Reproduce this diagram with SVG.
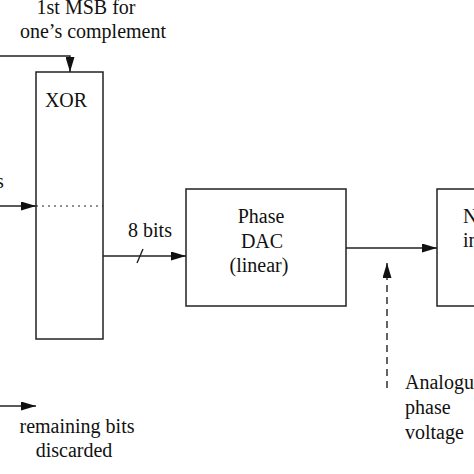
<svg xmlns="http://www.w3.org/2000/svg" width="474" height="474" viewBox="0 0 474 474">
<defs>
<style>
text{font-family:"Liberation Serif","Times New Roman",serif;font-size:20px;fill:#111}
.box{fill:#fff;stroke:#222;stroke-width:1.5}
.ln{fill:none;stroke:#222;stroke-width:1.4}
.mid{text-anchor:middle}
</style>
<marker id="ah" markerUnits="userSpaceOnUse" viewBox="0 0 15 9" refX="15" refY="4.5" markerWidth="15" markerHeight="9" orient="auto">
<path d="M0,0 L15,4.5 L0,9 z" fill="#111"/>
</marker>
</defs>
<rect width="474" height="474" fill="#fff"/>
<g id="xor">
<rect class="box" x="36" y="72" width="67" height="267"/>
<text class="mid" x="66" y="107">XOR</text>
<line x1="36" y1="206" x2="103" y2="206" stroke="#222" stroke-width="1.2" stroke-dasharray="2,4"/>
</g>
<g id="dac">
<rect class="box" x="186" y="189" width="160" height="117"/>
<text class="mid" x="261" y="223">Phase</text>
<text class="mid" x="262" y="248">DAC</text>
<text class="mid" x="259" y="272">(linear)</text>
</g>
<g id="right">
<rect class="box" x="437" y="189" width="60" height="117"/>
<text x="463" y="223">N</text>
<text x="463" y="247">in</text>
</g>
<g id="connectors">
<path class="ln" d="M0,56 H70 V72" marker-end="url(#ah)"/>
<line class="ln" x1="0" y1="206" x2="36" y2="206" marker-end="url(#ah)"/>
<line class="ln" x1="103" y1="256" x2="186" y2="256" marker-end="url(#ah)"/>
<line class="ln" x1="137" y1="263" x2="143" y2="249"/>
<line class="ln" x1="346" y1="248" x2="437" y2="248" marker-end="url(#ah)"/>
<line class="ln" x1="387" y1="388" x2="387" y2="263" stroke-dasharray="7,5" marker-end="url(#ah)"/>
<line class="ln" x1="0" y1="406" x2="36" y2="406" marker-end="url(#ah)"/>
</g>
<g id="labels">
<text class="mid" x="86" y="14">1st MSB for</text>
<text class="mid" x="93" y="38">one’s complement</text>
<text x="-4" y="188">s</text>
<text class="mid" x="150" y="237">8 bits</text>
<text x="405" y="389">Analogu</text>
<text x="405" y="414">phase</text>
<text x="405" y="439">voltage</text>
<text class="mid" x="77" y="433">remaining bits</text>
<text class="mid" x="74" y="457">discarded</text>
</g>
</svg>
